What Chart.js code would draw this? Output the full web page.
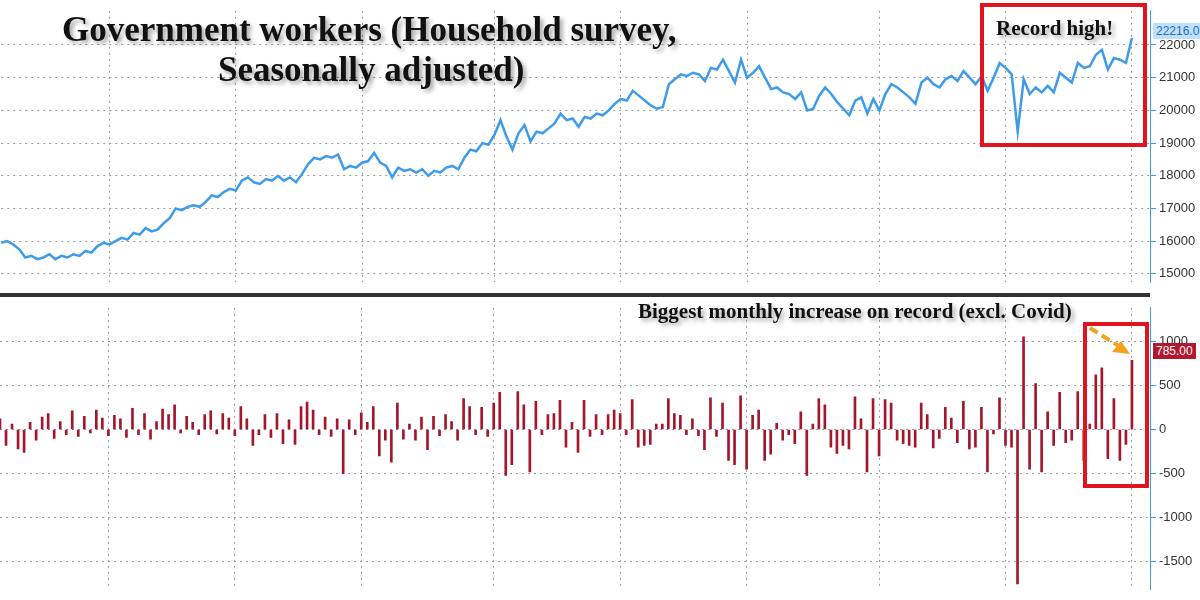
<!DOCTYPE html>
<html>
<head>
<meta charset="utf-8">
<script src="https://cdn.jsdelivr.net/npm/chart.js@4"></script>
<style>
  body { margin: 0; background: #fff; }
  #wrap { position: relative; width: 1200px; height: 600px; overflow: hidden; }
  #top { position: absolute; left: 0; top: 0; }
  #bot { position: absolute; left: 0; top: 297px; }
  .note { position: absolute; font-family: "Liberation Serif", "DejaVu Serif", serif; font-weight: bold;
          color: #111; text-shadow: 3px 3px 4px rgba(0,0,0,0.35); white-space: nowrap; }
  .box { position: absolute; border: 4px solid #e0141e; box-sizing: border-box; }
  .tag { position: absolute; font: 12px Arial, sans-serif; padding: 1px 3px; }
</style>
</head>
<body>
<div id="wrap">
  <canvas id="top" width="1200" height="293"></canvas>
  <canvas id="bot" width="1200" height="303"></canvas>
  <div style="position:absolute;left:0;top:293px;width:1150px;height:4px;background:#333"></div>
  <div class="note" style="left:62px;top:10px;font-size:35px">Government workers (Household survey,</div>
  <div class="note" style="left:218px;top:50px;font-size:35px">Seasonally adjusted)</div>
  <div class="box" style="left:980px;top:3px;width:167px;height:144px"></div>
  <div class="note" style="left:996px;top:16px;font-size:21px">Record high!</div>
  <div class="box" style="left:1083px;top:322px;width:66px;height:166px"></div>
  <div class="note" style="left:638px;top:299px;font-size:21px">Biggest monthly increase on record (excl. Covid)</div>
  <svg style="position:absolute;left:0;top:0" width="1200" height="600">
    <line x1="1090" y1="328" x2="1122" y2="348" stroke="#f0a41c" stroke-width="4" stroke-dasharray="9,5"/>
    <polygon points="1130,354 1112,352 1121,341" fill="#f0a41c"/>
  </svg>
  <div class="tag" style="left:1153px;top:23px;background:#bfe0fa;color:#1b6fc0">22216.0</div>
  <div class="tag" style="left:1153px;top:343px;background:#b5172e;color:#fff">785.00</div>
</div>
<script>
const govWorkers = [
  15950, 16000, 15900, 15750, 15500, 15550, 15450, 15500, 15600, 15450,
  15550, 15500, 15600, 15550, 15700, 15650, 15850, 15950, 15900, 16000,
  16100, 16050, 16250, 16200, 16400, 16300, 16350, 16550, 16700, 17000,
  16950, 17050, 17100, 17050, 17200, 17400, 17350, 17500, 17600, 17550,
  17850, 17950, 17800, 17750, 17900, 17850, 18000, 17850, 17950, 17800,
  18050, 18350, 18550, 18500, 18600, 18550, 18650, 18200, 18300, 18250,
  18400, 18450, 18700, 18400, 18300, 17950, 18250, 18150, 18200, 18100,
  18200, 18000, 18150, 18100, 18250, 18300, 18200, 18550, 18800, 18750,
  19000, 18950, 19250, 19700, 19200, 18800, 19300, 19550, 19050, 19350,
  19300, 19450, 19600, 19900, 19700, 19750, 19500, 19800, 19750, 19900,
  19850, 20000, 20200, 20350, 20300, 20600, 20450, 20300, 20150, 20050,
  20100, 20800, 20950, 21100, 21050, 21150, 21100, 20900, 21300, 21250,
  21550, 21200, 20850, 21550, 21000, 21150, 21350, 21000, 20650, 20700,
  20550, 20500, 20350, 20550, 20000, 20050, 20450, 20700, 20500, 20250,
  20050, 19850, 20300, 20400, 19900, 20350, 20000, 20500, 20800, 20700,
  20550, 20400, 20200, 20850, 21000, 20800, 20700, 20950, 21050, 20900,
  21200, 21000, 20800, 21050, 20600, 21000, 21450, 21300, 21100, 19350,
  20950, 20500, 20700, 20550, 20750, 20550, 21150, 21000, 20850, 21450,
  21300, 21350, 21700, 21850, 21250, 21600, 21550, 21450, 22216, null,
  null, null
];

const monthlyChange = [
  120, -180, 60, -220, -260, 80, -120, 140, 180, -100,
  90, -60, 210, -80, 150, -40, 220, 130, -70, 160,
  120, -90, 240, -60, 180, -110, 90, 230, 170, 280,
  -40, 150, 80, -60, 170, 210, -50, 180, 130, -70,
  260, 120, -180, -60, 170, -90, 180, -160, 110, -170,
  260, 310, 220, -60, 140, -80, 120, -500, 110, -60,
  190, 80, 260, -300, -120, -370, 300, -110, 60, -120,
  140, -230, 150, -70, 170, 90, -120, 350, 260, -60,
  250, -80, 300, 420, -520, -400, 430, 280, -480, 320,
  -60, 170, 180, 330, -200, 80, -260, 330, -80, 170,
  -60, 170, 220, 180, -60, 340, -200, -180, -170, 60,
  60, 350, 180, 160, -60, 120, -70, -230, 360, -80,
  300, -350, -400, 380, -450, 160, 220, -350, -280, 70,
  -120, -60, -160, 200, -520, 60, 350, 280, -200, -270,
  -180, -220, 370, 120, -480, 350, -300, 340, 300, -120,
  -160, -180, -200, 300, 170, -210, -100, 250, 130, -150,
  320, -220, -200, 250, -480, -50, 360, -180, -200, -1750,
  1050, -450, 520, -480, 200, -180, 420, -150, -120, 430,
  -350, 60, 620, 700, -330, 350, -350, -170, 785, null,
  null, null
];

const labels = govWorkers.map((_, i) => i);
const gridIdx = [18, 39, 60, 82, 103, 124, 146, 167, 188];
const topTicks = [15000, 16000, 17000, 18000, 19000, 20000, 21000, 22000];
const botTicks = [-1500, -1000, -500, 0, 500, 1000];

const axisBlue = "#3d9be9";
const dotted = [2, 4];

function xAxis() {
  return {
    offset: false,
    ticks: { display: false, autoSkip: false },
    grid: {
      offset: false,
      color: ctx => gridIdx.includes(ctx.index) ? "#999" : "rgba(0,0,0,0)",
      drawTicks: false
    },
    border: { display: false, dash: dotted }
  };
}

function yAxis(min, max, ticks) {
  return {
    position: "right",
    min, max,
    afterFit: s => { s.width = 50; },
    afterBuildTicks: s => { s.ticks = ticks.map(v => ({ value: v })); },
    ticks: {
      color: "#333",
      font: { family: "Arial", size: 13 },
      padding: 3,
      callback: v => String(v)
    },
    grid: {
      color: "#999",
      tickColor: axisBlue,
      tickLength: 6
    },
    border: { color: axisBlue, width: 1 }
  };
}

new Chart(document.getElementById("top"), {
  type: "line",
  data: {
    labels,
    datasets: [{
      data: govWorkers,
      borderColor: "#3d9be9",
      borderWidth: 2.5,
      pointRadius: 0,
      tension: 0
    }]
  },
  options: {
    responsive: false,
    animation: false,
    layout: { padding: 0 },
    plugins: { legend: { display: false }, tooltip: { enabled: false } },
    scales: {
      x: xAxis(),
      y: yAxis(14745, 23045, topTicks)
    }
  }
});

new Chart(document.getElementById("bot"), {
  type: "bar",
  data: {
    labels,
    datasets: [{
      data: monthlyChange,
      backgroundColor: "#a3162c",
      barThickness: 2
    }]
  },
  options: {
    responsive: false,
    animation: false,
    layout: { padding: 0 },
    plugins: { legend: { display: false }, tooltip: { enabled: false } },
    scales: {
      x: xAxis(),
      y: yAxis(-1810, 1379, botTicks)
    }
  }
});

// dotted grid lines for both panels
Object.values(Chart.instances).forEach(c => {
  c.options.scales.x.grid.tickBorderDash = [];
  c.options.scales.y.grid.tickBorderDash = [];
  c.options.scales.x.border.dash = dotted;
  c.options.scales.y.border.dash = dotted;
  c.options.scales.y.border.display = true;
  c.update("none");
});
</script>
</body>
</html>
